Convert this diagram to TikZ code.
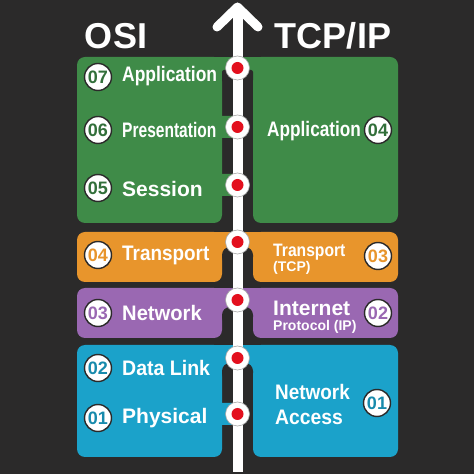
\documentclass[tikz,border=0pt]{standalone}
\usepackage{fontspec}
\setmainfont{Liberation Sans}
\usepackage{graphicx}
\usetikzlibrary{positioning}
\definecolor{bg}{HTML}{2B2A2A}
\definecolor{osigreen}{HTML}{3F8B48}
\definecolor{osiorange}{HTML}{E8952C}
\definecolor{osipurple}{HTML}{9A68B2}
\definecolor{osiblue}{HTML}{1BA2CA}
\definecolor{dotred}{HTML}{E3101E}
\newcommand*{\nar}[2]{\scalebox{#1}[1]{#2}}
\newcommand*{\fs}[1]{\fontsize{#1}{#1}\selectfont\bfseries}
\tikzset{
  badge/.style={circle,fill=white,draw=bg,line width=1.4pt,minimum size=27pt,
    inner sep=0pt,font=\fs{18}},
  layer/.style={anchor=west,text=white,inner sep=0pt,font=\fs{21}},
  ring/.style={circle,fill=white,draw=black!35,line width=.6pt,
    minimum size=24pt,inner sep=0pt},
  block/.style={rounded corners=8pt},
}

\begin{document}
\begin{tikzpicture}[x=1pt,y=1pt]
% Canvas
\fill[bg] (0,0) rectangle (474,474);
\useasboundingbox (0,0) rectangle (474,474);
% Left (OSI) and right (TCP/IP) blocks: left edge, gap, right edge
% top, bottom, colour
\foreach \t/\b/\c in {417/251/osigreen,242/192/osiorange,
                      186/136/osipurple,129/17/osiblue}{
  \fill[\c,block] (77,\b) rectangle (222,\t);
  \fill[\c,block] (253,\b) rectangle (398,\t);
}
% Bands across the gap at the top of each group, with an arch below
\foreach \t/\f/\r/\c in {417/404/2/osigreen,242/227/8/osiorange,
                         186/167/8/osipurple,129/111/8/osiblue}{
  \fill[\c] (215,\f-\r) rectangle (260,\t);
  \fill[bg,rounded corners=\r] (222,\f-\r-10) rectangle (253,\f);
}
% Tabs joining the left blocks to their dots
\foreach \y/\c in {347/osigreen,289/osigreen,60/osiblue}
  \fill[\c,rounded corners=3pt] (215,\y-11) rectangle (236,\y+11);
% Arrow up the middle
\draw[white,line width=10pt] (237.5,2) -- (237.5,466);
\draw[white,line width=9pt,line cap=round,line join=round]
  (217,447) -- (237.5,467) -- (258,447);
% Dots on the arrow
\foreach \y [count=\i] in {406,347,289,232,174,116,60}{
  \node[ring] (dot\i) at (237.5,\y) {};
  \fill[dotred] (dot\i) circle (6pt);
}
% Titles
\node[font=\fs{36},text=white] (osi) at (116,438) {OSI};
\node[font=\fs{36},text=white] (tcpip) at (333,438) {TCP/IP};
% OSI layers
\node[badge,text=osigreen!80!black] (b7) at (98,397) {07};
\node[badge,text=osigreen!80!black] (b6) at (98,344) {06};
\node[badge,text=osigreen!80!black] (b5) at (98,286) {05};
\node[badge,text=osiorange] (b4) at (98,219) {04};
\node[badge,text=osipurple] (b3) at (98,161) {03};
\node[badge,text=osiblue!85!black] (b2) at (98,106) {02};
\node[badge,text=osiblue!85!black] (b1) at (98,56) {01};
\node[layer] (app) at (122,398) {\nar{.83}{Application}};
\node[layer] (pres) at (122,344) {\nar{.74}{Presentation}};
\node[layer] (sess) at (122,285) {Session};
\node[layer] (trans) at (122,219) {\nar{.9}{Transport}};
\node[layer] (net) at (122,161) {\nar{.96}{Network}};
\node[layer] (link) at (122,106) {\nar{.93}{Data Link}};
\node[layer] (phys) at (122,56) {Physical};
% TCP/IP layers
\node[badge,text=osigreen!80!black] (r4) at (378,344) {04};
\node[badge,text=osiorange] (r3) at (378,218) {03};
\node[badge,text=osipurple] (r2) at (378,161) {02};
\node[badge,text=osiblue!85!black] (r1) at (377,71) {01};
\node[layer] (appR) at (267,343) {\nar{.82}{Application}};
\node[layer,font=\fs{18}] (transR) at (273,222) {\nar{.87}{Transport}};
\node[layer,font=\fs{14},below=1pt of transR.south west,anchor=north west]
  (tcp) {(TCP)};
\node[layer] (inet) at (273,166) {Internet};
\node[layer,font=\fs{14},below=5pt of inet.south west,anchor=north west]
  (ip) {Protocol (IP)};
\node[layer] (netR) at (275,82) {\nar{.9}{Network}};
\node[layer,below=10pt of netR.south west,anchor=north west]
  (acc) {\nar{.92}{Access}};
\end{tikzpicture}
\end{document}
